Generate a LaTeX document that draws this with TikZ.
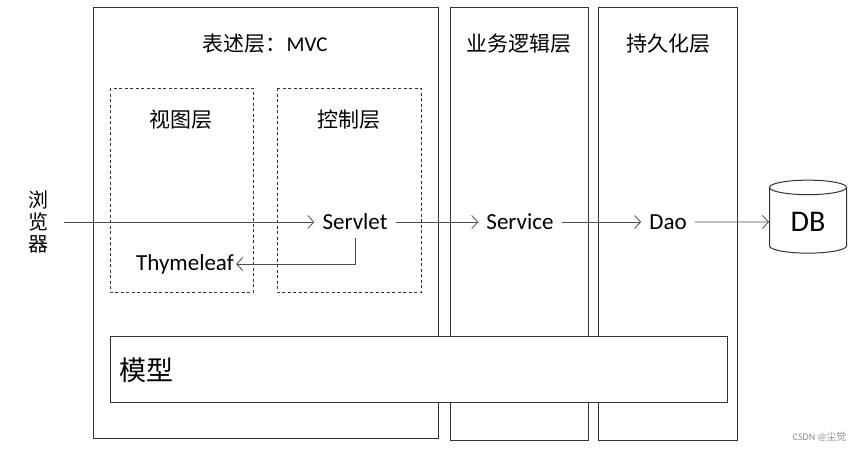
\documentclass[tikz,border=0pt]{standalone}
\usepackage{fontspec}
\setmainfont{Carlito}
\newfontfamily\cjk{Noto Sans CJK SC}
\usetikzlibrary{arrows.meta,shapes.geometric}
\begin{document}
\begin{tikzpicture}[x=1pt,y=-1pt,
  col/.style={draw=black!80,line width=1pt},
  dsh/.style={draw=black!80,line width=0.8pt,dash pattern=on 3pt off 2.5pt},
  arr/.style={draw=black!70,line width=0.8pt,-{Straight Barb[length=6pt,width=13pt]}},
  lbl/.style={font=\fontsize{23}{26}\selectfont,inner sep=8pt},
  ttl/.style={font=\cjk\fontsize{21}{24}\selectfont}]
\useasboundingbox (0,0) rectangle (865,452);
\draw[col] (93,8) rectangle (438,438);
\draw[col] (450,8) rectangle (588,440);
\draw[col] (598,8) rectangle (737,440);
\node[ttl] (t1) at (265,44) {表述层：\fontspec{Carlito}MVC};
\node[ttl] (t2) at (519,44) {业务逻辑层};
\node[ttl] (t3) at (668,44) {持久化层};
\draw[dsh] (110,88) rectangle (253,292);
\draw[dsh] (277,88) rectangle (421,292);
\node[ttl] (v) at (181,120) {视图层};
\node[ttl] (c) at (349,120) {控制层};
\draw[col,fill=white] (110,336) rectangle (727,402);
\node[font=\cjk\fontsize{27}{30}\selectfont,anchor=west] (m) at (116,370) {模型};
\node[font=\cjk\fontsize{20}{22}\selectfont,align=center,inner sep=0pt] (b) at (38,222) {浏\\览\\器};
\node[lbl] (s) at (355,222) {Servlet};
\node[lbl] (sv) at (520,222) {Service};
\node[lbl] (d) at (668,222) {Dao};
\node[lbl,inner sep=2pt] (th) at (185,264) {Thymeleaf};
\node[cylinder,shape border rotate=90,draw=black!80,line width=1pt,minimum width=77pt,minimum height=73pt,aspect=0.35,font=\fontsize{30}{32}\selectfont] (db) at (808,222) {DB};
\coordinate (bs) at (64,222);
\draw[arr] (bs) -- (s.west);
\draw[arr] (s.east) -- (sv.west);
\draw[arr] (sv.east) -- (d.west);
\draw[arr] (d.east) -- (db.west);
\draw[arr] (s.south) |- (th.east);
\node[font=\fontsize{10}{11}\selectfont,text=black!45,anchor=east] (w) at (850,437) {CSDN @\cjk 尘觉};
\end{tikzpicture}
\end{document}
